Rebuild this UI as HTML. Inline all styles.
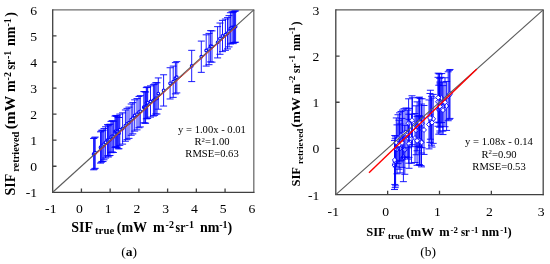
<!DOCTYPE html>
<html><head><meta charset="utf-8"><title>SIF retrieved vs true</title>
<style>
html,body{margin:0;padding:0;background:#fff;}
svg{display:block;font-family:"Liberation Serif",serif;}
</style></head><body>
<svg width="550" height="264" viewBox="0 0 550 264">
<rect width="550" height="264" fill="#fff"/>
<rect x="52.7" y="9.9" width="201.1" height="182.4" fill="#fff"/>
<path d="M52.7 9.9H254.4" stroke="#6e6e6e" stroke-width="1.3" fill="none"/>
<path d="M253.8 9.9V192.9" stroke="#6e6e6e" stroke-width="1.3" fill="none"/>
<path d="M52.7 9.3V193M52 192.3H254.4M81.43 192.3v-3.8M52.7 166.24h3.8M110.16 192.3v-3.8M52.7 140.19h3.8M138.89 192.3v-3.8M52.7 114.13h3.8M167.61 192.3v-3.8M52.7 88.07h3.8M196.34 192.3v-3.8M52.7 62.01h3.8M225.07 192.3v-3.8M52.7 35.96h3.8" stroke="#404040" stroke-width="1.3" fill="none"/>
<g stroke="#0000ff" stroke-width="0.9"><path d="M93.6 138.53V169.8M90.1 138.53h7M90.1 169.8h7" fill="none"/><circle cx="93.6" cy="154.16" r="1.35" fill="#fff" stroke-width="1.1"/><path d="M94.4 137.8V169.07M90.9 137.8h7M90.9 169.07h7" fill="none"/><circle cx="94.4" cy="153.44" r="1.35" fill="#fff" stroke-width="1.1"/><path d="M95.2 137.08V168.34M91.7 137.08h7M91.7 168.34h7" fill="none"/><circle cx="95.2" cy="152.71" r="1.35" fill="#fff" stroke-width="1.1"/><path d="M100.5 131.84V163.11M97 131.84h7M97 163.11h7" fill="none"/><circle cx="100.5" cy="147.47" r="1.35" fill="#fff" stroke-width="1.1"/><path d="M101.3 131V162.27M97.8 131h7M97.8 162.27h7" fill="none"/><circle cx="101.3" cy="146.64" r="1.35" fill="#fff" stroke-width="1.1"/><path d="M102 130.16V161.43M98.5 130.16h7M98.5 161.43h7" fill="none"/><circle cx="102" cy="145.79" r="1.35" fill="#fff" stroke-width="1.1"/><path d="M103 130.3V161.57M99.5 130.3h7M99.5 161.57h7" fill="none"/><circle cx="103" cy="145.94" r="1.35" fill="#fff" stroke-width="1.1"/><path d="M104 128.54V159.81M100.5 128.54h7M100.5 159.81h7" fill="none"/><circle cx="104" cy="144.18" r="1.35" fill="#fff" stroke-width="1.1"/><path d="M105.6 126.78V158.05M102.1 126.78h7M102.1 158.05h7" fill="none"/><circle cx="105.6" cy="142.42" r="1.35" fill="#fff" stroke-width="1.1"/><path d="M107.5 124.63V155.9M104 124.63h7M104 155.9h7" fill="none"/><circle cx="107.5" cy="140.27" r="1.35" fill="#fff" stroke-width="1.1"/><path d="M108.3 125.73V157M104.8 125.73h7M104.8 157h7" fill="none"/><circle cx="108.3" cy="141.36" r="1.35" fill="#fff" stroke-width="1.1"/><path d="M109 124.55V155.82M105.5 124.55h7M105.5 155.82h7" fill="none"/><circle cx="109" cy="140.18" r="1.35" fill="#fff" stroke-width="1.1"/><path d="M110 124.2V155.47M106.5 124.2h7M106.5 155.47h7" fill="none"/><circle cx="110" cy="139.83" r="1.35" fill="#fff" stroke-width="1.1"/><path d="M111 121.42V152.69M107.5 121.42h7M107.5 152.69h7" fill="none"/><circle cx="111" cy="137.05" r="1.35" fill="#fff" stroke-width="1.1"/><path d="M112.2 120.63V151.9M108.7 120.63h7M108.7 151.9h7" fill="none"/><circle cx="112.2" cy="136.27" r="1.35" fill="#fff" stroke-width="1.1"/><path d="M113.4 121.24V152.51M109.9 121.24h7M109.9 152.51h7" fill="none"/><circle cx="113.4" cy="136.87" r="1.35" fill="#fff" stroke-width="1.1"/><path d="M115 116.08V147.35M111.5 116.08h7M111.5 147.35h7" fill="none"/><circle cx="115" cy="131.72" r="1.35" fill="#fff" stroke-width="1.1"/><path d="M115.8 115.45V146.72M112.3 115.45h7M112.3 146.72h7" fill="none"/><circle cx="115.8" cy="131.08" r="1.35" fill="#fff" stroke-width="1.1"/><path d="M116.6 116.34V147.61M113.1 116.34h7M113.1 147.61h7" fill="none"/><circle cx="116.6" cy="131.98" r="1.35" fill="#fff" stroke-width="1.1"/><path d="M117.4 115.82V147.08M113.9 115.82h7M113.9 147.08h7" fill="none"/><circle cx="117.4" cy="131.45" r="1.35" fill="#fff" stroke-width="1.1"/><path d="M118.2 117.48V148.75M114.7 117.48h7M114.7 148.75h7" fill="none"/><circle cx="118.2" cy="133.11" r="1.35" fill="#fff" stroke-width="1.1"/><path d="M119 117.49V148.76M115.5 117.49h7M115.5 148.76h7" fill="none"/><circle cx="119" cy="133.13" r="1.35" fill="#fff" stroke-width="1.1"/><path d="M119.8 114.09V145.36M116.3 114.09h7M116.3 145.36h7" fill="none"/><circle cx="119.8" cy="129.73" r="1.35" fill="#fff" stroke-width="1.1"/><path d="M122.6 112.85V144.12M119.1 112.85h7M119.1 144.12h7" fill="none"/><circle cx="122.6" cy="128.48" r="1.35" fill="#fff" stroke-width="1.1"/><path d="M125.4 109.97V141.24M121.9 109.97h7M121.9 141.24h7" fill="none"/><circle cx="125.4" cy="125.6" r="1.35" fill="#fff" stroke-width="1.1"/><path d="M127 108.38V139.65M123.5 108.38h7M123.5 139.65h7" fill="none"/><circle cx="127" cy="124.02" r="1.35" fill="#fff" stroke-width="1.1"/><path d="M129 107.12V138.39M125.5 107.12h7M125.5 138.39h7" fill="none"/><circle cx="129" cy="122.76" r="1.35" fill="#fff" stroke-width="1.1"/><path d="M131.2 104V135.26M127.7 104h7M127.7 135.26h7" fill="none"/><circle cx="131.2" cy="119.63" r="1.35" fill="#fff" stroke-width="1.1"/><path d="M132.8 102.61V133.87M129.3 102.61h7M129.3 133.87h7" fill="none"/><circle cx="132.8" cy="118.24" r="1.35" fill="#fff" stroke-width="1.1"/><path d="M134.7 99.84V131.1M131.2 99.84h7M131.2 131.1h7" fill="none"/><circle cx="134.7" cy="115.47" r="1.35" fill="#fff" stroke-width="1.1"/><path d="M137 98.59V129.86M133.5 98.59h7M133.5 129.86h7" fill="none"/><circle cx="137" cy="114.23" r="1.35" fill="#fff" stroke-width="1.1"/><path d="M139 96.46V127.73M135.5 96.46h7M135.5 127.73h7" fill="none"/><circle cx="139" cy="112.1" r="1.35" fill="#fff" stroke-width="1.1"/><path d="M140.3 95.65V126.92M136.8 95.65h7M136.8 126.92h7" fill="none"/><circle cx="140.3" cy="111.28" r="1.35" fill="#fff" stroke-width="1.1"/><path d="M143.8 91.63V122.9M140.3 91.63h7M140.3 122.9h7" fill="none"/><circle cx="143.8" cy="107.26" r="1.35" fill="#fff" stroke-width="1.1"/><path d="M144.9 91.7V122.97M141.4 91.7h7M141.4 122.97h7" fill="none"/><circle cx="144.9" cy="107.33" r="1.35" fill="#fff" stroke-width="1.1"/><path d="M145.6 92V123.27M142.1 92h7M142.1 123.27h7" fill="none"/><circle cx="145.6" cy="107.63" r="1.35" fill="#fff" stroke-width="1.1"/><path d="M146.3 87.61V118.88M142.8 87.61h7M142.8 118.88h7" fill="none"/><circle cx="146.3" cy="103.25" r="1.35" fill="#fff" stroke-width="1.1"/><path d="M147 86.99V118.26M143.5 86.99h7M143.5 118.26h7" fill="none"/><circle cx="147" cy="102.62" r="1.35" fill="#fff" stroke-width="1.1"/><path d="M147.7 87.16V118.43M144.2 87.16h7M144.2 118.43h7" fill="none"/><circle cx="147.7" cy="102.8" r="1.35" fill="#fff" stroke-width="1.1"/><path d="M150.5 85.86V117.12M147 85.86h7M147 117.12h7" fill="none"/><circle cx="150.5" cy="101.49" r="1.35" fill="#fff" stroke-width="1.1"/><path d="M153.4 84.73V116M149.9 84.73h7M149.9 116h7" fill="none"/><circle cx="153.4" cy="100.36" r="1.35" fill="#fff" stroke-width="1.1"/><path d="M154.6 84.09V115.36M151.1 84.09h7M151.1 115.36h7" fill="none"/><circle cx="154.6" cy="99.72" r="1.35" fill="#fff" stroke-width="1.1"/><path d="M155.8 82.69V113.96M152.3 82.69h7M152.3 113.96h7" fill="none"/><circle cx="155.8" cy="98.32" r="1.35" fill="#fff" stroke-width="1.1"/><path d="M157 82.74V114.01M153.5 82.74h7M153.5 114.01h7" fill="none"/><circle cx="157" cy="98.38" r="1.35" fill="#fff" stroke-width="1.1"/><path d="M158.3 77.93V109.2M154.8 77.93h7M154.8 109.2h7" fill="none"/><circle cx="158.3" cy="93.57" r="1.35" fill="#fff" stroke-width="1.1"/><path d="M163.6 74.77V106.04M160.1 74.77h7M160.1 106.04h7" fill="none"/><circle cx="163.6" cy="90.41" r="1.35" fill="#fff" stroke-width="1.1"/><path d="M170.1 67.72V98.98M166.6 67.72h7M166.6 98.98h7" fill="none"/><circle cx="170.1" cy="83.35" r="1.35" fill="#fff" stroke-width="1.1"/><path d="M173.2 66.1V97.37M169.7 66.1h7M169.7 97.37h7" fill="none"/><circle cx="173.2" cy="81.74" r="1.35" fill="#fff" stroke-width="1.1"/><path d="M175.4 62.62V93.89M171.9 62.62h7M171.9 93.89h7" fill="none"/><circle cx="175.4" cy="78.25" r="1.35" fill="#fff" stroke-width="1.1"/><path d="M176.8 61.64V92.91M173.3 61.64h7M173.3 92.91h7" fill="none"/><circle cx="176.8" cy="77.27" r="1.35" fill="#fff" stroke-width="1.1"/><path d="M191.7 50.33V81.6M188.2 50.33h7M188.2 81.6h7" fill="none"/><circle cx="191.7" cy="65.96" r="1.35" fill="#fff" stroke-width="1.1"/><path d="M201.3 41.08V72.35M197.8 41.08h7M197.8 72.35h7" fill="none"/><circle cx="201.3" cy="56.71" r="1.35" fill="#fff" stroke-width="1.1"/><path d="M206.2 34.81V66.08M202.7 34.81h7M202.7 66.08h7" fill="none"/><circle cx="206.2" cy="50.44" r="1.35" fill="#fff" stroke-width="1.1"/><path d="M209 33.41V64.68M205.5 33.41h7M205.5 64.68h7" fill="none"/><circle cx="209" cy="49.05" r="1.35" fill="#fff" stroke-width="1.1"/><path d="M210.6 30.63V61.9M207.1 30.63h7M207.1 61.9h7" fill="none"/><circle cx="210.6" cy="46.27" r="1.35" fill="#fff" stroke-width="1.1"/><path d="M212 30.88V62.15M208.5 30.88h7M208.5 62.15h7" fill="none"/><circle cx="212" cy="46.52" r="1.35" fill="#fff" stroke-width="1.1"/><path d="M217.6 26.65V57.92M214.1 26.65h7M214.1 57.92h7" fill="none"/><circle cx="217.6" cy="42.28" r="1.35" fill="#fff" stroke-width="1.1"/><path d="M220 23.02V54.29M216.5 23.02h7M216.5 54.29h7" fill="none"/><circle cx="220" cy="38.66" r="1.35" fill="#fff" stroke-width="1.1"/><path d="M222.5 20.37V51.63M219 20.37h7M219 51.63h7" fill="none"/><circle cx="222.5" cy="36" r="1.35" fill="#fff" stroke-width="1.1"/><path d="M225.4 19.06V50.33M221.9 19.06h7M221.9 50.33h7" fill="none"/><circle cx="225.4" cy="34.7" r="1.35" fill="#fff" stroke-width="1.1"/><path d="M227.5 17.63V48.9M224 17.63h7M224 48.9h7" fill="none"/><circle cx="227.5" cy="33.27" r="1.35" fill="#fff" stroke-width="1.1"/><path d="M229 15.63V46.9M225.5 15.63h7M225.5 46.9h7" fill="none"/><circle cx="229" cy="31.27" r="1.35" fill="#fff" stroke-width="1.1"/><path d="M230.4 12.72V43.99M226.9 12.72h7M226.9 43.99h7" fill="none"/><circle cx="230.4" cy="28.35" r="1.35" fill="#fff" stroke-width="1.1"/><path d="M232 11.8V43.07M228.5 11.8h7M228.5 43.07h7" fill="none"/><circle cx="232" cy="27.44" r="1.35" fill="#fff" stroke-width="1.1"/><path d="M233.2 12.38V43.65M229.7 12.38h7M229.7 43.65h7" fill="none"/><circle cx="233.2" cy="28.02" r="1.35" fill="#fff" stroke-width="1.1"/><path d="M233.9 11.41V42.68M230.4 11.41h7M230.4 42.68h7" fill="none"/><circle cx="233.9" cy="27.05" r="1.35" fill="#fff" stroke-width="1.1"/><path d="M234.6 11.16V42.43M231.1 11.16h7M231.1 42.43h7" fill="none"/><circle cx="234.6" cy="26.79" r="1.35" fill="#fff" stroke-width="1.1"/><path d="M235.6 10.94V42.21M232.1 10.94h7M232.1 42.21h7" fill="none"/><circle cx="235.6" cy="26.58" r="1.35" fill="#fff" stroke-width="1.1"/></g>
<line x1="52.7" y1="192.3" x2="253.8" y2="9.9" stroke="#5c5c5c" stroke-width="1.15"/>
<line x1="94.76" y1="155.18" x2="236.1" y2="26.98" stroke="#c8382e" stroke-width="1"/>
<rect x="335.8" y="9.9" width="207.4" height="184.7" fill="#fff"/>
<path d="M335.8 9.9H543.8" stroke="#5a5a5a" stroke-width="1.3" fill="none"/>
<path d="M543.2 9.9V195.2" stroke="#454545" stroke-width="1.3" fill="none"/>
<path d="M335.8 9.3V195.3M335.1 194.6H543.8M387.65 194.6v-3.8M335.8 148.43h3.8M439.5 194.6v-3.8M335.8 102.25h3.8M491.35 194.6v-3.8M335.8 56.08h3.8" stroke="#404040" stroke-width="1.3" fill="none"/>
<g stroke="#0000ff" stroke-width="0.9"><path d="M394.5 140.58V189.52M391 140.58h7M391 189.52h7" fill="none"/><path d="M394.5 162.55l2.5 2.5l-2.5 2.5l-2.5 -2.5z" fill="#fff" stroke-width="0.9"/><path d="M395.2 138.73V187.67M391.7 138.73h7M391.7 187.67h7" fill="none"/><path d="M395.2 160.7l2.5 2.5l-2.5 2.5l-2.5 -2.5z" fill="#fff" stroke-width="0.9"/><path d="M395.6 136.88V185.83M392.1 136.88h7M392.1 185.83h7" fill="none"/><path d="M395.6 158.85l2.5 2.5l-2.5 2.5l-2.5 -2.5z" fill="#fff" stroke-width="0.9"/><path d="M394.8 135.5V184.44M391.3 135.5h7M391.3 184.44h7" fill="none"/><path d="M394.8 157.47l2.5 2.5l-2.5 2.5l-2.5 -2.5z" fill="#fff" stroke-width="0.9"/><path d="M403.4 132.73V181.67M399.9 132.73h7M399.9 181.67h7" fill="none"/><path d="M403.4 154.7l2.5 2.5l-2.5 2.5l-2.5 -2.5z" fill="#fff" stroke-width="0.9"/><path d="M397 124.88V173.82M393.5 124.88h7M393.5 173.82h7" fill="none"/><path d="M397 146.85l2.5 2.5l-2.5 2.5l-2.5 -2.5z" fill="#fff" stroke-width="0.9"/><path d="M400 123.95V172.9M396.5 123.95h7M396.5 172.9h7" fill="none"/><path d="M400 145.93l2.5 2.5l-2.5 2.5l-2.5 -2.5z" fill="#fff" stroke-width="0.9"/><path d="M404.8 125.34V174.28M401.3 125.34h7M401.3 174.28h7" fill="none"/><path d="M404.8 147.31l2.5 2.5l-2.5 2.5l-2.5 -2.5z" fill="#fff" stroke-width="0.9"/><path d="M396.3 117.95V166.89M392.8 117.95h7M392.8 166.89h7" fill="none"/><path d="M396.3 139.92l2.5 2.5l-2.5 2.5l-2.5 -2.5z" fill="#fff" stroke-width="0.9"/><path d="M398 114.72V163.66M394.5 114.72h7M394.5 163.66h7" fill="none"/><path d="M398 136.69l2.5 2.5l-2.5 2.5l-2.5 -2.5z" fill="#fff" stroke-width="0.9"/><path d="M399.5 112.87V161.82M396 112.87h7M396 161.82h7" fill="none"/><path d="M399.5 134.84l2.5 2.5l-2.5 2.5l-2.5 -2.5z" fill="#fff" stroke-width="0.9"/><path d="M401 111.48V160.43M397.5 111.48h7M397.5 160.43h7" fill="none"/><path d="M401 133.46l2.5 2.5l-2.5 2.5l-2.5 -2.5z" fill="#fff" stroke-width="0.9"/><path d="M402.5 110.1V159.05M399 110.1h7M399 159.05h7" fill="none"/><path d="M402.5 132.07l2.5 2.5l-2.5 2.5l-2.5 -2.5z" fill="#fff" stroke-width="0.9"/><path d="M404 108.71V157.66M400.5 108.71h7M400.5 157.66h7" fill="none"/><path d="M404 130.69l2.5 2.5l-2.5 2.5l-2.5 -2.5z" fill="#fff" stroke-width="0.9"/><path d="M406 107.98V156.92M402.5 107.98h7M402.5 156.92h7" fill="none"/><path d="M406 129.95l2.5 2.5l-2.5 2.5l-2.5 -2.5z" fill="#fff" stroke-width="0.9"/><path d="M407.7 110.1V159.05M404.2 110.1h7M404.2 159.05h7" fill="none"/><path d="M407.7 132.07l2.5 2.5l-2.5 2.5l-2.5 -2.5z" fill="#fff" stroke-width="0.9"/><path d="M399 120.26V169.2M395.5 120.26h7M395.5 169.2h7" fill="none"/><path d="M399 142.23l2.5 2.5l-2.5 2.5l-2.5 -2.5z" fill="#fff" stroke-width="0.9"/><path d="M402 118.41V167.36M398.5 118.41h7M398.5 167.36h7" fill="none"/><path d="M402 140.38l2.5 2.5l-2.5 2.5l-2.5 -2.5z" fill="#fff" stroke-width="0.9"/><path d="M417.13 101.87V150.81M413.63 101.87h7M413.63 150.81h7" fill="none"/><path d="M417.13 123.84l2.5 2.5l-2.5 2.5l-2.5 -2.5z" fill="#fff" stroke-width="0.9"/><path d="M419.49 97.14V146.09M415.99 97.14h7M415.99 146.09h7" fill="none"/><path d="M419.49 119.11l2.5 2.5l-2.5 2.5l-2.5 -2.5z" fill="#fff" stroke-width="0.9"/><path d="M418.74 97.61V146.56M415.24 97.61h7M415.24 146.56h7" fill="none"/><path d="M418.74 119.59l2.5 2.5l-2.5 2.5l-2.5 -2.5z" fill="#fff" stroke-width="0.9"/><path d="M409 108.37V157.32M405.5 108.37h7M405.5 157.32h7" fill="none"/><path d="M409 130.34l2.5 2.5l-2.5 2.5l-2.5 -2.5z" fill="#fff" stroke-width="0.9"/><path d="M421.52 104.05V153M418.02 104.05h7M418.02 153h7" fill="none"/><path d="M421.52 126.02l2.5 2.5l-2.5 2.5l-2.5 -2.5z" fill="#fff" stroke-width="0.9"/><path d="M420.94 116.67V165.61M417.44 116.67h7M417.44 165.61h7" fill="none"/><path d="M420.94 138.64l2.5 2.5l-2.5 2.5l-2.5 -2.5z" fill="#fff" stroke-width="0.9"/><path d="M415.03 113.53V162.47M411.53 113.53h7M411.53 162.47h7" fill="none"/><path d="M415.03 135.5l2.5 2.5l-2.5 2.5l-2.5 -2.5z" fill="#fff" stroke-width="0.9"/><path d="M416.05 105.82V154.76M412.55 105.82h7M412.55 154.76h7" fill="none"/><path d="M416.05 127.79l2.5 2.5l-2.5 2.5l-2.5 -2.5z" fill="#fff" stroke-width="0.9"/><path d="M408.78 114.23V163.18M405.28 114.23h7M405.28 163.18h7" fill="none"/><path d="M408.78 136.2l2.5 2.5l-2.5 2.5l-2.5 -2.5z" fill="#fff" stroke-width="0.9"/><path d="M412.43 97.76V146.7M408.93 97.76h7M408.93 146.7h7" fill="none"/><path d="M412.43 119.73l2.5 2.5l-2.5 2.5l-2.5 -2.5z" fill="#fff" stroke-width="0.9"/><path d="M419.09 115.58V164.52M415.59 115.58h7M415.59 164.52h7" fill="none"/><path d="M419.09 137.55l2.5 2.5l-2.5 2.5l-2.5 -2.5z" fill="#fff" stroke-width="0.9"/><path d="M419.52 116.07V165.01M416.02 116.07h7M416.02 165.01h7" fill="none"/><path d="M419.52 138.04l2.5 2.5l-2.5 2.5l-2.5 -2.5z" fill="#fff" stroke-width="0.9"/><path d="M417.06 116.35V165.3M413.56 116.35h7M413.56 165.3h7" fill="none"/><path d="M417.06 138.32l2.5 2.5l-2.5 2.5l-2.5 -2.5z" fill="#fff" stroke-width="0.9"/><path d="M408.62 98.81V147.76M405.12 98.81h7M405.12 147.76h7" fill="none"/><path d="M408.62 120.79l2.5 2.5l-2.5 2.5l-2.5 -2.5z" fill="#fff" stroke-width="0.9"/><path d="M411.47 114.26V163.21M407.97 114.26h7M407.97 163.21h7" fill="none"/><path d="M411.47 136.23l2.5 2.5l-2.5 2.5l-2.5 -2.5z" fill="#fff" stroke-width="0.9"/><path d="M422.06 98.79V147.74M418.56 98.79h7M418.56 147.74h7" fill="none"/><path d="M422.06 120.76l2.5 2.5l-2.5 2.5l-2.5 -2.5z" fill="#fff" stroke-width="0.9"/><path d="M409 119.33V168.28M405.5 119.33h7M405.5 168.28h7" fill="none"/><path d="M409 141.31l2.5 2.5l-2.5 2.5l-2.5 -2.5z" fill="#fff" stroke-width="0.9"/><path d="M421.5 117.95V166.89M418 117.95h7M418 166.89h7" fill="none"/><path d="M421.5 139.92l2.5 2.5l-2.5 2.5l-2.5 -2.5z" fill="#fff" stroke-width="0.9"/><path d="M412 95.79V144.73M408.5 95.79h7M408.5 144.73h7" fill="none"/><path d="M412 117.76l2.5 2.5l-2.5 2.5l-2.5 -2.5z" fill="#fff" stroke-width="0.9"/><path d="M420 98.56V147.5M416.5 98.56h7M416.5 147.5h7" fill="none"/><path d="M420 120.53l2.5 2.5l-2.5 2.5l-2.5 -2.5z" fill="#fff" stroke-width="0.9"/><path d="M424 105.48V154.43M420.5 105.48h7M420.5 154.43h7" fill="none"/><path d="M424 127.45l2.5 2.5l-2.5 2.5l-2.5 -2.5z" fill="#fff" stroke-width="0.9"/><path d="M429 99.94V148.89M425.5 99.94h7M425.5 148.89h7" fill="none"/><path d="M429 121.91l2.5 2.5l-2.5 2.5l-2.5 -2.5z" fill="#fff" stroke-width="0.9"/><path d="M430.4 90.24V139.19M426.9 90.24h7M426.9 139.19h7" fill="none"/><path d="M430.4 112.22l2.5 2.5l-2.5 2.5l-2.5 -2.5z" fill="#fff" stroke-width="0.9"/><path d="M431.5 96.25V145.19M428 96.25h7M428 145.19h7" fill="none"/><path d="M431.5 118.22l2.5 2.5l-2.5 2.5l-2.5 -2.5z" fill="#fff" stroke-width="0.9"/><path d="M433.2 94.4V143.35M429.7 94.4h7M429.7 143.35h7" fill="none"/><path d="M433.2 116.37l2.5 2.5l-2.5 2.5l-2.5 -2.5z" fill="#fff" stroke-width="0.9"/><path d="M432 98.09V147.04M428.5 98.09h7M428.5 147.04h7" fill="none"/><path d="M432 120.07l2.5 2.5l-2.5 2.5l-2.5 -2.5z" fill="#fff" stroke-width="0.9"/><path d="M430 93.48V142.42M426.5 93.48h7M426.5 142.42h7" fill="none"/><path d="M430 115.45l2.5 2.5l-2.5 2.5l-2.5 -2.5z" fill="#fff" stroke-width="0.9"/><path d="M439.56 73.66V122.6M436.06 73.66h7M436.06 122.6h7" fill="none"/><path d="M439.56 95.63l2.5 2.5l-2.5 2.5l-2.5 -2.5z" fill="#fff" stroke-width="0.9"/><path d="M440.91 77.33V126.27M437.41 77.33h7M437.41 126.27h7" fill="none"/><path d="M440.91 99.3l2.5 2.5l-2.5 2.5l-2.5 -2.5z" fill="#fff" stroke-width="0.9"/><path d="M439.11 73.92V122.87M435.61 73.92h7M435.61 122.87h7" fill="none"/><path d="M439.11 95.9l2.5 2.5l-2.5 2.5l-2.5 -2.5z" fill="#fff" stroke-width="0.9"/><path d="M441.73 73.59V122.54M438.23 73.59h7M438.23 122.54h7" fill="none"/><path d="M441.73 95.56l2.5 2.5l-2.5 2.5l-2.5 -2.5z" fill="#fff" stroke-width="0.9"/><path d="M442.83 82.23V131.17M439.33 82.23h7M439.33 131.17h7" fill="none"/><path d="M442.83 104.2l2.5 2.5l-2.5 2.5l-2.5 -2.5z" fill="#fff" stroke-width="0.9"/><path d="M439.95 83.94V132.89M436.45 83.94h7M436.45 132.89h7" fill="none"/><path d="M439.95 105.92l2.5 2.5l-2.5 2.5l-2.5 -2.5z" fill="#fff" stroke-width="0.9"/><path d="M438.79 85.25V134.19M435.29 85.25h7M435.29 134.19h7" fill="none"/><path d="M438.79 107.22l2.5 2.5l-2.5 2.5l-2.5 -2.5z" fill="#fff" stroke-width="0.9"/><path d="M439.63 78.29V127.24M436.13 78.29h7M436.13 127.24h7" fill="none"/><path d="M439.63 100.26l2.5 2.5l-2.5 2.5l-2.5 -2.5z" fill="#fff" stroke-width="0.9"/><path d="M438.02 77.32V126.27M434.52 77.32h7M434.52 126.27h7" fill="none"/><path d="M438.02 99.3l2.5 2.5l-2.5 2.5l-2.5 -2.5z" fill="#fff" stroke-width="0.9"/><path d="M439.82 82.08V131.03M436.32 82.08h7M436.32 131.03h7" fill="none"/><path d="M439.82 104.05l2.5 2.5l-2.5 2.5l-2.5 -2.5z" fill="#fff" stroke-width="0.9"/><path d="M438.2 73.16V122.11M434.7 73.16h7M434.7 122.11h7" fill="none"/><path d="M438.2 95.13l2.5 2.5l-2.5 2.5l-2.5 -2.5z" fill="#fff" stroke-width="0.9"/><path d="M443 85.63V134.57M439.5 85.63h7M439.5 134.57h7" fill="none"/><path d="M443 107.6l2.5 2.5l-2.5 2.5l-2.5 -2.5z" fill="#fff" stroke-width="0.9"/><path d="M446.6 81.47V130.42M443.1 81.47h7M443.1 130.42h7" fill="none"/><path d="M446.6 103.44l2.5 2.5l-2.5 2.5l-2.5 -2.5z" fill="#fff" stroke-width="0.9"/><path d="M445 77.78V126.72M441.5 77.78h7M441.5 126.72h7" fill="none"/><path d="M445 99.75l2.5 2.5l-2.5 2.5l-2.5 -2.5z" fill="#fff" stroke-width="0.9"/><path d="M448.2 71.77V120.72M444.7 71.77h7M444.7 120.72h7" fill="none"/><path d="M448.2 93.75l2.5 2.5l-2.5 2.5l-2.5 -2.5z" fill="#fff" stroke-width="0.9"/><path d="M449.3 70.39V119.33M445.8 70.39h7M445.8 119.33h7" fill="none"/><path d="M449.3 92.36l2.5 2.5l-2.5 2.5l-2.5 -2.5z" fill="#fff" stroke-width="0.9"/><path d="M450 69.47V118.41M446.5 69.47h7M446.5 118.41h7" fill="none"/><path d="M450 91.44l2.5 2.5l-2.5 2.5l-2.5 -2.5z" fill="#fff" stroke-width="0.9"/></g>
<line x1="335.8" y1="194.6" x2="543.2" y2="9.9" stroke="#5c5c5c" stroke-width="1.15"/>
<line x1="368.98" y1="172.84" x2="476.83" y2="69.11" stroke="#ff0000" stroke-width="1.4"/>
<g font-size="12" fill="#000"><text transform="translate(50.8 213) scale(1.14 1)" text-anchor="middle">-1</text><text transform="translate(37.2 196.9) scale(1.14 1)" text-anchor="end">-1</text><text transform="translate(79.53 213) scale(1.14 1)" text-anchor="middle">0</text><text transform="translate(37.2 170.84) scale(1.14 1)" text-anchor="end">0</text><text transform="translate(108.26 213) scale(1.14 1)" text-anchor="middle">1</text><text transform="translate(37.2 144.79) scale(1.14 1)" text-anchor="end">1</text><text transform="translate(136.99 213) scale(1.14 1)" text-anchor="middle">2</text><text transform="translate(37.2 118.73) scale(1.14 1)" text-anchor="end">2</text><text transform="translate(165.71 213) scale(1.14 1)" text-anchor="middle">3</text><text transform="translate(37.2 92.67) scale(1.14 1)" text-anchor="end">3</text><text transform="translate(194.44 213) scale(1.14 1)" text-anchor="middle">4</text><text transform="translate(37.2 66.61) scale(1.14 1)" text-anchor="end">4</text><text transform="translate(223.17 213) scale(1.14 1)" text-anchor="middle">5</text><text transform="translate(37.2 40.56) scale(1.14 1)" text-anchor="end">5</text><text transform="translate(251.9 213) scale(1.14 1)" text-anchor="middle">6</text><text transform="translate(37.2 14.5) scale(1.14 1)" text-anchor="end">6</text><text transform="translate(333.3 216) scale(1.14 1)" text-anchor="middle">-1</text><text transform="translate(319.3 200) scale(1.14 1)" text-anchor="end">-1</text><text transform="translate(385.65 216) scale(1.14 1)" text-anchor="middle">0</text><text transform="translate(319.3 152.5) scale(1.14 1)" text-anchor="end">0</text><text transform="translate(437.5 216) scale(1.14 1)" text-anchor="middle">1</text><text transform="translate(319.3 106.6) scale(1.14 1)" text-anchor="end">1</text><text transform="translate(489.35 216) scale(1.14 1)" text-anchor="middle">2</text><text transform="translate(319.3 61) scale(1.14 1)" text-anchor="end">2</text><text transform="translate(541.2 216) scale(1.14 1)" text-anchor="middle">3</text><text transform="translate(319.3 14.7) scale(1.14 1)" text-anchor="end">3</text></g>
<text id="xa" font-weight="bold" font-size="14"><tspan x="71.3" y="231.6" font-size="14">SIF</tspan><tspan x="95" y="233.6" font-size="10.4" textLength="19.2" lengthAdjust="spacingAndGlyphs">true</tspan><tspan x="116.8" y="231.6" font-size="14">(mW</tspan><tspan x="153" y="231.6" font-size="14">m</tspan><tspan x="165.6" y="228.2" font-size="10">-2</tspan><tspan x="175.6" y="231.6" font-size="14" textLength="9.8" lengthAdjust="spacingAndGlyphs">sr</tspan><tspan x="185.6" y="228.2" font-size="10">-1</tspan><tspan x="200" y="231.6" font-size="14">nm</tspan><tspan x="219.2" y="228.2" font-size="10">-1</tspan><tspan x="227.6" y="231.6" font-size="14">)</tspan></text>
<text id="xb" font-weight="bold" font-size="12.5"><tspan x="366.3" y="236.2" font-size="12.5">SIF</tspan><tspan x="388" y="238.5" font-size="9.1">true</tspan><tspan x="406.3" y="236.2" font-size="12.5" textLength="27.8" lengthAdjust="spacingAndGlyphs">(mW</tspan><tspan x="439.2" y="236.2" font-size="12.5">m</tspan><tspan x="450.6" y="233.4" font-size="8.8">-2</tspan><tspan x="460.9" y="236.2" font-size="12.5" textLength="8.9" lengthAdjust="spacingAndGlyphs">sr</tspan><tspan x="471.2" y="233.4" font-size="8.8">-1</tspan><tspan x="481.7" y="236.2" font-size="12.5">nm</tspan><tspan x="500.3" y="233.4" font-size="8.8">-1</tspan><tspan x="507.4" y="236.2" font-size="12.5">)</tspan></text>
<text id="ya" transform="translate(15.3 195.6) rotate(-90)" font-weight="bold" font-size="14"><tspan x="0" y="0" font-size="14">SIF</tspan><tspan x="23.8" y="3.3" font-size="10.4">retrieved</tspan><tspan x="66.3" y="0" font-size="14" textLength="33.6" lengthAdjust="spacingAndGlyphs">(mW</tspan><tspan x="103.7" y="0" font-size="14">m</tspan><tspan x="115.2" y="-4.5" font-size="10">-2</tspan><tspan x="126.1" y="0" font-size="14" textLength="9.8" lengthAdjust="spacingAndGlyphs">sr</tspan><tspan x="136.6" y="-4.5" font-size="10">-1</tspan><tspan x="149.6" y="0" font-size="14">nm</tspan><tspan x="169" y="-4.5" font-size="10">-1</tspan><tspan x="178.8" y="0" font-size="14">)</tspan></text>
<text id="yb" transform="translate(300.3 186.5) rotate(-90)" font-weight="bold" font-size="12.5"><tspan x="0" y="0" font-size="12.5">SIF</tspan><tspan x="22.6" y="3" font-size="9.1">retrieved</tspan><tspan x="59" y="0" font-size="12.5" textLength="30.2" lengthAdjust="spacingAndGlyphs">(mW</tspan><tspan x="92.5" y="0" font-size="12.5">m</tspan><tspan x="103.4" y="-5" font-size="8.8">-2</tspan><tspan x="113.5" y="0" font-size="12.5" textLength="9.4" lengthAdjust="spacingAndGlyphs">sr</tspan><tspan x="124.2" y="-5" font-size="8.8">-1</tspan><tspan x="135.4" y="0" font-size="12.5">nm</tspan><tspan x="152.4" y="-5" font-size="8.8">-1</tspan><tspan x="161" y="0" font-size="12.5">)</tspan></text>
<g font-size="10.6" text-anchor="middle" fill="#000"><text x="212" y="132.6">y = 1.00x - 0.01</text><text x="212" y="144.79999999999998">R<tspan font-size="6.8" dy="-3.2">2</tspan><tspan dy="3.2">=1.00</tspan></text><text x="212" y="157.0">RMSE=0.63</text></g>
<g font-size="10.6" text-anchor="middle" fill="#000"><text x="499" y="145.4">y = 1.08x - 0.14</text><text x="499" y="157.6">R<tspan font-size="6.8" dy="-3.2">2</tspan><tspan dy="3.2">=0.90</tspan></text><text x="499" y="169.8">RMSE=0.53</text></g>
<text id="la" x="129" y="256" font-size="13.5" text-anchor="middle">(<tspan font-weight="bold">a</tspan>)</text>
<text id="lb" x="428.2" y="256.4" font-size="13.5" text-anchor="middle">(b)</text>
</svg>
</body></html>
